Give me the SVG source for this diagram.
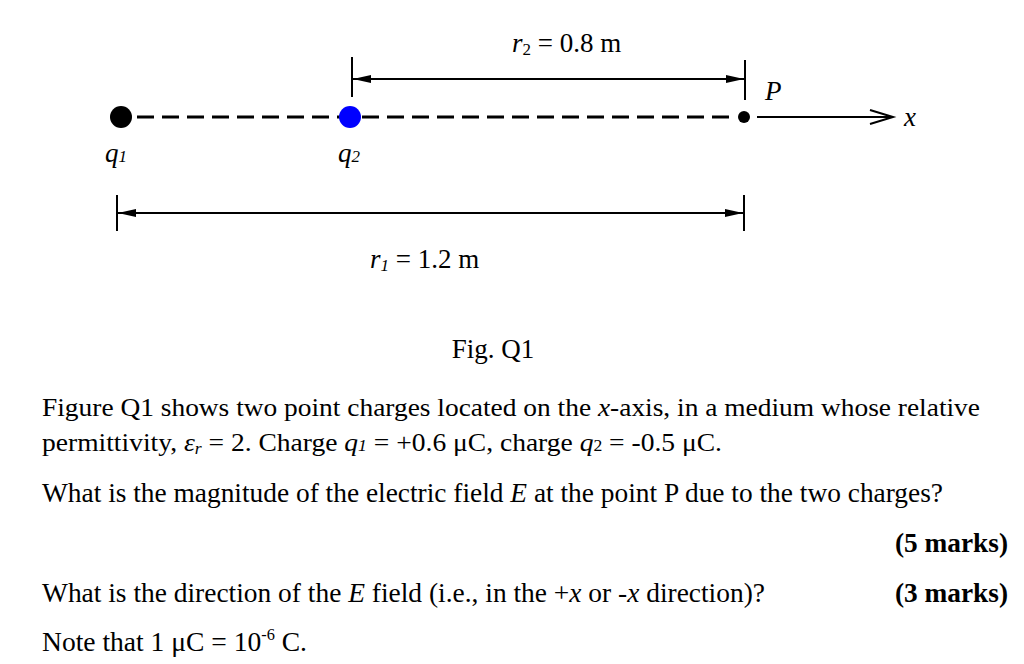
<svg xmlns="http://www.w3.org/2000/svg" width="1024" height="664" viewBox="0 0 1024 664">
<style>
text{font-family:"Liberation Serif","Times New Roman",serif;fill:#000;font-size:25px}
.lab{font-size:27px}
.big{font-size:27px}
.i{font-style:italic}
.b{font-weight:bold}
.ln{stroke:#000;stroke-width:2;fill:none}
.dash{stroke:#000;stroke-width:3;stroke-dasharray:17 8;fill:none}
</style>
<defs>
<marker id="ah" viewBox="0 0 18 8" refX="18" refY="4" markerWidth="18" markerHeight="8" markerUnits="userSpaceOnUse" orient="auto-start-reverse">
<path d="M0,0 L18,4 L0,8 Z" fill="#000"/>
</marker>
</defs>
<rect width="1024" height="664" fill="#fff"/>
<g id="connectors">
<line class="dash" x1="137" y1="117" x2="737" y2="117"/>
<line class="ln" x1="757" y1="117" x2="893" y2="117"/>
<polyline class="ln" points="870,110 893,117 870,124"/>
<line class="ln" x1="352" y1="57" x2="352" y2="97"/>
<line class="ln" x1="745" y1="60" x2="745" y2="100"/>
<line class="ln" x1="353" y1="79" x2="744" y2="79" marker-start="url(#ah)" marker-end="url(#ah)"/>
<line class="ln" x1="117" y1="195" x2="117" y2="231"/>
<line class="ln" x1="744" y1="195" x2="744" y2="231"/>
<line class="ln" x1="118" y1="213" x2="743" y2="213" marker-start="url(#ah)" marker-end="url(#ah)"/>
</g>
<g id="q1"><circle cx="121" cy="117" r="11" fill="#000"/><text x="105" y="162" class="i lab">q<tspan font-size="17">1</tspan></text></g>
<g id="q2"><circle cx="350" cy="117" r="11" fill="#0000ff"/><text x="338" y="162" class="i lab">q<tspan font-size="17">2</tspan></text></g>
<g id="P"><circle cx="744" cy="117" r="6" fill="#000"/><text x="765" y="100" class="i lab">P</text></g>
<g id="xlabel"><text x="904" y="126" class="i lab">x</text></g>
<g id="r2label"><text x="512" y="52" class="lab"><tspan class="i">r</tspan><tspan font-size="17" dy="3">2</tspan><tspan dy="-3"> = 0.8 m</tspan></text></g>
<g id="r1label"><text x="370" y="268" class="lab"><tspan class="i">r</tspan><tspan font-size="17" dy="3" class="i">1</tspan><tspan dy="-3"> = 1.2 m</tspan></text></g>
<text x="493" y="358" text-anchor="middle" class="lab">Fig. Q1</text>
<text x="42" y="416" textLength="938" lengthAdjust="spacingAndGlyphs">Figure Q1 shows two point charges located on the <tspan class="i">x</tspan>-axis, in a medium whose relative</text>
<text x="42" y="451" textLength="680" lengthAdjust="spacingAndGlyphs">permittivity, <tspan class="i">ε</tspan><tspan class="i" font-size="16" dy="3">r</tspan><tspan dy="-3"> = 2. Charge </tspan><tspan class="i">q</tspan><tspan class="i" font-size="16">1</tspan> = +0.6 μC, charge <tspan class="i">q</tspan><tspan font-size="16">2</tspan> = -0.5 μC.</text>
<text x="42" y="502" class="big" textLength="901" lengthAdjust="spacingAndGlyphs">What is the magnitude of the electric field <tspan class="i">E</tspan> at the point P due to the two charges?</text>
<text x="895" y="552" class="b big" textLength="113" lengthAdjust="spacingAndGlyphs">(5 marks)</text>
<text x="42" y="602" class="big" textLength="723" lengthAdjust="spacingAndGlyphs">What is the direction of the <tspan class="i">E</tspan> field (i.e., in the +<tspan class="i">x</tspan> or -<tspan class="i">x</tspan> direction)?</text>
<text x="895" y="602" class="b big" textLength="113" lengthAdjust="spacingAndGlyphs">(3 marks)</text>
<text x="42" y="651" class="big" textLength="265" lengthAdjust="spacingAndGlyphs">Note that 1 μC = 10<tspan font-size="16" dy="-11">-6</tspan><tspan dy="11"> C.</tspan></text>
</svg>
